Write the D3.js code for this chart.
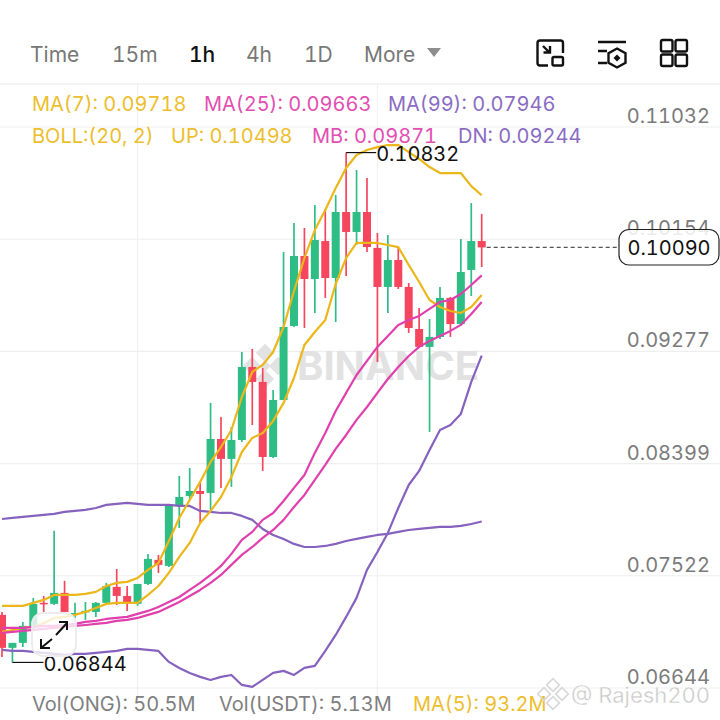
<!DOCTYPE html>
<html>
<head>
<meta charset="utf-8">
<script src="https://cdn.jsdelivr.net/npm/d3@7/dist/d3.min.js"></script>
<style>
  html, body { margin: 0; padding: 0; background: #fff; }
  svg { display: block; font-family: Inter, Roboto, sans-serif; font-variant-numeric: tabular-nums; font-feature-settings: "tnum" 1; }
</style>
</head>
<body>
<div id="chart"></div>
<script>
const opens = [.07216,.06958,.06997,.07122,.07310,.07302,.07388,.07216,.07239,.07239,.07310,.07435,.07364,.07302,.07458,.07646,.07599,.08068,.08146,.08185,.08170,.08592,.08436,.08584,.09155,.09038,.08451,.08897,.09476,.10023,.09843,.10140,.09851,.10367,.10211,.10367,.10086,.09781,.09992,.09781,.09452,.09312,.09390,.09695,.09491,.09914,.10140];
const closes = [.06958,.06997,.07130,.07302,.07302,.07388,.07239,.07231,.07247,.07310,.07442,.07364,.07310,.07458,.07654,.07607,.08068,.08138,.08185,.08162,.08592,.08436,.08584,.09155,.09038,.08451,.08897,.09468,.10023,.09843,.10148,.09851,.10367,.10211,.10367,.10093,.09781,.09992,.09781,.09460,.09312,.09390,.09695,.09491,.09898,.10140,.10090];
const highs = [.07239,.06997,.07161,.07349,.07364,.07873,.07482,.07310,.07317,.07317,.07466,.07575,.07442,.07458,.07693,.07685,.08084,.08303,.08365,.08248,.08874,.08764,.08686,.09272,.09296,.09147,.08975,.10054,.10281,.10242,.10422,.10391,.10500,.10832,.10696,.10633,.10203,.10187,.10086,.09812,.09616,.09530,.09781,.09703,.10156,.10437,.10352];
const lows = [.06887,.06844,.06965,.07098,.07231,.07294,.07231,.07192,.07177,.07200,.07294,.07294,.07247,.07286,.07450,.07544,.07591,.07896,.08115,.07935,.08037,.08209,.08217,.08569,.08701,.08342,.08443,.08897,.09468,.09460,.09577,.09695,.09507,.09867,.10109,.10054,.09194,.09577,.09765,.09421,.09304,.08647,.09374,.09390,.09484,.09710,.09937];

const ma7 = [.07083,.07098,.07114,.07122,.07153,.07192,.07200,.07216,.07239,.07270,.07302,.07310,.07310,.07310,.07372,.07442,.07544,.07669,.07779,.07935,.08029,.08138,.08295,.08490,.08600,.08639,.08733,.08874,.09069,.09327,.09429,.09523,.09804,.10007,.10125,.10125,.10125,.10109,.10093,.09953,.09820,.09679,.09624,.09593,.09577,.09624,.09718];
const ma25 = [.07075,.07083,.07091,.07098,.07106,.07114,.07122,.07130,.07137,.07145,.07153,.07169,.07177,.07192,.07216,.07239,.07278,.07317,.07364,.07411,.07466,.07528,.07607,.07685,.07747,.07818,.07880,.07959,.08060,.08154,.08271,.08389,.08514,.08623,.08741,.08842,.08952,.09061,.09155,.09241,.09312,.09358,.09397,.09437,.09484,.09570,.09663];
const ma99 = [.07966,.07974,.07982,.07990,.07998,.08006,.08021,.08029,.08037,.08052,.08076,.08084,.08092,.08084,.08076,.08076,.08076,.08068,.08068,.08029,.08021,.08013,.08013,.07990,.07959,.07888,.07841,.07810,.07771,.07747,.07747,.07755,.07771,.07794,.07810,.07826,.07841,.07849,.07865,.07880,.07888,.07896,.07904,.07904,.07912,.07927,.07946];
const bollUp = [.07286,.07286,.07286,.07310,.07333,.07372,.07372,.07372,.07380,.07396,.07442,.07466,.07474,.07505,.07568,.07622,.07794,.07974,.08115,.08256,.08412,.08529,.08662,.08920,.09116,.09171,.09272,.09468,.09749,.10007,.10226,.10383,.10555,.10711,.10813,.10852,.10875,.10891,.10891,.10836,.10782,.10719,.10672,.10672,.10672,.10570,.10498];
const bollMb = [.07114,.07114,.07114,.07122,.07130,.07130,.07137,.07145,.07161,.07169,.07184,.07192,.07200,.07224,.07247,.07278,.07317,.07356,.07411,.07466,.07528,.07599,.07693,.07802,.07865,.07959,.08013,.08107,.08209,.08310,.08483,.08639,.08811,.08952,.09092,.09202,.09312,.09397,.09483,.09523,.09554,.09609,.09663,.09679,.09726,.09796,.09871];
const bollDn = [.06942,.06934,.06934,.06926,.06919,.06911,.06903,.06911,.06911,.06919,.06926,.06934,.06950,.06950,.06942,.06934,.06848,.06801,.06762,.06731,.06707,.06731,.06746,.06668,.06653,.06707,.06762,.06778,.06746,.06801,.06817,.06934,.07059,.07200,.07349,.07568,.07708,.07857,.08052,.08232,.08342,.08506,.08662,.08701,.08788,.09038,.09244];

const priceTicks = [.11032,.10154,.09277,.08399,.07522,.06644];
const timeGridIdx = [13, 36];
const tabs = ["Time","15m","1h","4h","1D","More"];
const lastPrice = .10090;
const highPrice = .10832, highIdx = 33;
const lowPrice = .06844, lowIdx = 1;

const width = 720, height = 720;
const green = "#2EBD85", red = "#F6465D";
const yellow = "#EBB71A", pink = "#E040AE", purple = "#8662BE";
const yellowText = "#EDBE2E", pinkText = "#E24FB2", purpleText = "#8A6CC2";

const svg = d3.select("#chart").append("svg").attr("width", width).attr("height", height);

const x = d3.scaleLinear().domain([0, 46]).range([2, 481.7]);
const y = d3.scaleLinear().domain([.06644, .11032]).range([688, 127]);

// ---- grid
svg.append("line").attr("x1", 0).attr("x2", width).attr("y1", 84).attr("y2", 84)
  .attr("stroke", "#f1f1f1").attr("stroke-width", 1.5);
svg.selectAll(".hgrid").data(priceTicks).enter().append("line").attr("class", "hgrid")
  .attr("x1", 0).attr("x2", width)
  .attr("y1", d => y(d)).attr("y2", d => y(d))
  .attr("stroke", "#efefef").attr("stroke-width", 1.2);
svg.selectAll(".vgrid").data(timeGridIdx).enter().append("line").attr("class", "vgrid")
  .attr("x1", d => x(d)).attr("x2", d => x(d))
  .attr("y1", 84).attr("y2", 698)
  .attr("stroke", "#f0f0f0").attr("stroke-width", 1.2);

// ---- watermark
const wm = svg.append("g").attr("fill", "#e2e2e2");
[[0,-13,6.5],[-13,0,6.5],[13,0,6.5],[0,13,6.5],[0,0,4]].forEach(s => {
  wm.append("rect").attr("x", -s[2]).attr("y", -s[2]).attr("width", 2*s[2]).attr("height", 2*s[2])
    .attr("transform", `translate(${265+s[0]},${366+s[1]}) rotate(45)`);
});
wm.append("text").attr("x", 297).attr("y", 380).attr("font-size", 39).attr("font-weight", 700)
  .attr("textLength", 182).attr("lengthAdjust", "spacingAndGlyphs").text("BINANCE");

// ---- candles
const bars = opens.map((o, i) => ({ i, o, c: closes[i], h: highs[i], l: lows[i] }));
const bw = 8;
const candleColor = d => d.c >= d.o ? green : red;
svg.selectAll(".wick").data(bars).enter().append("line").attr("class", "wick")
  .attr("x1", d => x(d.i)).attr("x2", d => x(d.i))
  .attr("y1", d => y(d.h)).attr("y2", d => y(d.l))
  .attr("stroke", candleColor).attr("stroke-width", 1.7);
svg.selectAll(".body").data(bars).enter().append("rect").attr("class", "body")
  .attr("x", d => x(d.i) - bw / 2).attr("width", bw)
  .attr("y", d => y(Math.max(d.o, d.c)))
  .attr("height", d => Math.max(1.5, Math.abs(y(d.o) - y(d.c))))
  .attr("fill", candleColor);

// ---- lines
const line = d3.line().x((d, i) => x(i)).y(d => y(d));
[[bollDn, purple],[ma99, purple],[ma7, yellow],[bollUp, yellow],[bollMb, pink],[ma25, pink]].forEach(s => {
  svg.append("path").datum(s[0]).attr("fill", "none").attr("stroke", s[1])
    .attr("stroke-width", 2.2).attr("stroke-linejoin", "round").attr("d", line);
});

// ---- high / low labels
svg.append("line").attr("x1", x(highIdx)).attr("x2", x(highIdx) + 30)
  .attr("y1", y(highPrice)).attr("y2", y(highPrice)).attr("stroke", "#111").attr("stroke-width", 1.2);
svg.append("text").attr("x", x(highIdx) + 30).attr("y", y(highPrice) + 8)
  .attr("font-size", 20).attr("fill", "#111").text(highPrice.toFixed(5));
svg.append("line").attr("x1", x(lowIdx)).attr("x2", x(lowIdx) + 31)
  .attr("y1", y(lowPrice)).attr("y2", y(lowPrice)).attr("stroke", "#111").attr("stroke-width", 1.2);
svg.append("text").attr("x", x(lowIdx) + 31).attr("y", y(lowPrice) + 9)
  .attr("font-size", 20).attr("fill", "#111").text(lowPrice.toFixed(5));

// ---- fullscreen button over the chart
svg.append("rect").attr("x", 32).attr("y", 613).attr("width", 44).attr("height", 43).attr("rx", 11)
  .attr("fill", "#fff").attr("fill-opacity", .78).attr("stroke", "#ececec").attr("stroke-width", 1.8);
const arrows = svg.append("g").attr("stroke", "#111").attr("stroke-width", 2).attr("fill", "none");
arrows.append("path").attr("d", "M56 635L67 623M59 622H67V630");
arrows.append("path").attr("d", "M52 639L41 648M41 639V648H50");

// ---- price axis
svg.selectAll(".ptick").data(priceTicks).enter().append("text").attr("class", "ptick")
  .attr("x", 710).attr("y", d => y(d) - 4).attr("text-anchor", "end")
  .attr("font-size", 20).attr("fill", "#7b7b7b").text(d => d.toFixed(5));

// ---- last price
svg.append("line").attr("x1", x(46) + 5).attr("x2", 619)
  .attr("y1", y(lastPrice)).attr("y2", y(lastPrice))
  .attr("stroke", "#555").attr("stroke-width", 1.2).attr("stroke-dasharray", "4 3");
svg.append("rect").attr("x", 619).attr("y", 229.5).attr("width", 100).attr("height", 35.5).attr("rx", 10)
  .attr("fill", "#fff").attr("fill-opacity", .85).attr("stroke", "#222").attr("stroke-width", 1.2);
svg.append("text").attr("x", 669).attr("y", 254.5).attr("text-anchor", "middle")
  .attr("font-size", 20).attr("fill", "#111").text(lastPrice.toFixed(5));

// ---- tabs
const tabX = [30, 112, 189, 246, 304, 364];
svg.selectAll(".tab").data(tabs).enter().append("text").attr("class", "tab")
  .attr("x", (d, i) => tabX[i]).attr("y", 62).attr("font-size", 21)
  .attr("fill", d => d === "1h" ? "#111" : "#777")
  .attr("font-weight", d => d === "1h" ? 500 : 400).text(d => d);
svg.append("path").attr("d", "M427 48H441L434 57Z").attr("fill", "#8e8e8e");

// ---- legends
const legend = [
  [32, 111, "MA(7): 0.09718", yellowText],
  [204, 111, "MA(25): 0.09663", pinkText],
  [388, 111, "MA(99): 0.07946", purpleText],
  [32, 143, "BOLL:(20, 2)", yellowText],
  [171, 143, "UP: 0.10498", yellowText],
  [312, 143, "MB: 0.09871", pinkText],
  [458, 143, "DN: 0.09244", purpleText],
  [32, 711, "Vol(ONG): 50.5M", "#7f7f7f"],
  [219, 711, "Vol(USDT): 5.13M", "#7f7f7f"],
  [413, 711, "MA(5): 93.2M", yellowText]
];
svg.selectAll(".legend").data(legend).enter().append("text").attr("class", "legend")
  .attr("x", d => d[0]).attr("y", d => d[1]).attr("font-size", 20)
  .attr("fill", d => d[3]).text(d => d[2]);

// ---- toolbar icons
const icons = svg.append("g").attr("fill", "none").attr("stroke", "#111").attr("stroke-width", 2.4);
icons.append("path").attr("d", "M548 65.5H540Q537.5 65.5 537.5 63V43Q537.5 40.5 540 40.5H560.5Q563 40.5 563 43V53");
icons.append("rect").attr("x", 552.5).attr("y", 57).attr("width", 10.5).attr("height", 8.5).attr("rx", 1.5);
icons.append("path").attr("d", "M543 46L550 53M543.5 52.5H550V46");
icons.append("path").attr("d", "M598 42H626M598 51H607M598 63H607");
icons.append("path").attr("d", "M617 48.5L625.5 53.2V62.8L617 67.5L608.5 62.8V53.2Z");
svg.append("path").attr("d", "M617 54.5L620.5 58L617 61.5L613.5 58Z").attr("fill", "#111");
[[661,40],[675.5,40],[661,54.5],[675.5,54.5]].forEach(p => {
  icons.append("rect").attr("x", p[0]).attr("y", p[1]).attr("width", 11.5).attr("height", 11.5).attr("rx", 1.8);
});

// ---- author watermark
[[0,-9,4.5],[-9,0,4.5],[9,0,4.5],[0,9,4.5]].forEach(s => {
  svg.append("rect").attr("x", -s[2]).attr("y", -s[2]).attr("width", 2*s[2]).attr("height", 2*s[2])
    .attr("fill", "none").attr("stroke", "#d8d8d8").attr("stroke-width", 1.6)
    .attr("transform", `translate(${553+s[0]},${694+s[1]}) rotate(45)`);
});
svg.append("text").attr("x", 571).attr("y", 703).attr("font-size", 22).attr("fill", "#c9c9c9")
  .attr("stroke", "#fff").attr("stroke-width", .4).text("@ Rajesh200");
</script>
</body>
</html>
